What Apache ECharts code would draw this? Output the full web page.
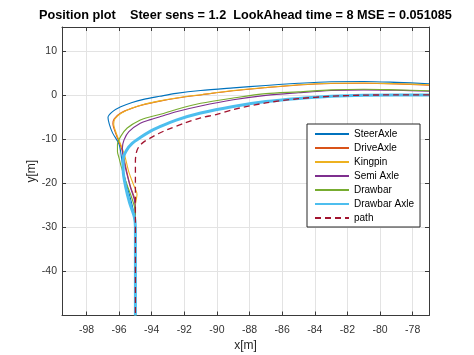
<!DOCTYPE html>
<html>
<head>
<meta charset="utf-8">
<script src="https://cdn.jsdelivr.net/npm/echarts@6/dist/echarts.min.js"></script>
<style>
html, body { margin: 0; padding: 0; background: #fff; }
#chart { width: 474px; height: 355px; }
</style>
</head>
<body>
<div id="chart"></div>
<script>
// ---- Data ----
const seriesNames = ['SteerAxle', 'DriveAxle', 'Kingpin', 'Semi Axle', 'Drawbar', 'Drawbar Axle', 'path'];

const steerAxle = [[-77, 2.55], [-79, 2.85], [-81, 3.05], [-83, 3.0], [-85, 2.65], [-87, 2.15], [-89, 1.6], [-91, 1.0], [-92.5, 0.35], [-93.5, -0.3], [-94.5, -1.0], [-95.2, -1.7], [-95.9, -2.7], [-96.4, -3.8], [-96.68, -5.1], [-96.6, -6.6], [-96.4, -8.6], [-96.0, -11.2], [-95.85, -14.3], [-95.7, -18], [-95.45, -21.5], [-95.2, -25], [-95.02, -28.5], [-95, -32], [-95, -50]];

const driveAxle = [[-77, 2.2], [-79, 2.5], [-81, 2.65], [-83, 2.6], [-85, 2.25], [-87, 1.65], [-89, 0.95], [-91, 0.0], [-92.5, -0.75], [-93.5, -1.4], [-94.5, -2.2], [-95.2, -3.0], [-95.9, -4.1], [-96.3, -5.4], [-96.38, -6.5], [-96.2, -8.8], [-95.9, -11.6], [-95.75, -13.5], [-95.55, -17], [-95.3, -20.8], [-95.05, -23.5], [-95, -26], [-95, -50]];

const kingpin = [[-77, 2.3], [-79, 2.55], [-81, 2.7], [-83, 2.65], [-85, 2.3], [-87, 1.7], [-89, 1.0], [-91, 0.05], [-92.5, -0.7], [-93.5, -1.35], [-94.5, -2.15], [-95.2, -2.95], [-95.85, -4.1], [-96.25, -5.4], [-96.33, -6.6], [-96.15, -8.9], [-95.85, -11.7], [-95.65, -13.8], [-95.4, -17.5], [-95.1, -20.5], [-94.9, -22.5], [-95, -25], [-95, -50]];

const semiAxle = [[-77, 0.85], [-79, 1.05], [-81, 1.15], [-83, 1.0], [-85, 0.5], [-87, -0.1], [-89, -1.1], [-91, -2.5], [-92.5, -3.8], [-93.46, -4.9], [-94.07, -5.6], [-94.7, -6.4], [-95.4, -8.3], [-95.7, -10.2], [-95.8, -12.1], [-95.75, -14], [-95.55, -17.5], [-95.3, -21], [-95.05, -24], [-95, -27], [-95, -50]];

const drawbar = [[-77, 0.95], [-79, 1.15], [-81, 1.3], [-83, 1.15], [-85, 0.7], [-87, 0.3], [-89, -0.7], [-91, -1.9], [-92.5, -3.3], [-93.46, -4.4], [-94.07, -4.95], [-94.7, -5.7], [-95.5, -7.5], [-95.9, -9.4], [-96.1, -11.3], [-96.1, -12.8], [-96.0, -14.3], [-95.85, -16.5], [-95.6, -19.5], [-95.3, -22.5], [-95.05, -25.5], [-95, -28], [-95, -50]];

const drawbarAxle = [[-77, 0.0], [-79, 0.0], [-81, -0.05], [-83, -0.3], [-85, -0.8], [-87, -1.5], [-89, -2.6], [-91, -4.1], [-92.5, -5.7], [-93.56, -7.3], [-94.07, -8.2], [-94.68, -9.6], [-95.2, -11.0], [-95.55, -12.6], [-95.75, -14.5], [-95.75, -17], [-95.6, -20.8], [-95.35, -24.5], [-95.07, -27.6], [-95, -30], [-95, -50]];

const pathRef = [[-77, 0.0], [-79, 0.0], [-81, -0.05], [-83, -0.3], [-85, -0.85], [-87, -1.8], [-89, -3.3], [-90, -4.4], [-91, -5.2], [-92, -6.4], [-93, -7.8], [-93.6, -8.8], [-94.1, -9.8], [-94.5, -10.7], [-94.8, -11.8], [-94.95, -13.2], [-95, -15], [-95, -50]];

const seriesData = [steerAxle, driveAxle, kingpin, semiAxle, drawbar, drawbarAxle, pathRef];
const seriesColors = ['#0072BD', '#D95319', '#EDB120', '#7E2F8E', '#77AC30', '#4DBEEE', '#A2142F'];

const titleText = 'Position plot    Steer sens = 1.2  LookAhead time = 8 MSE = 0.051085';
const xName = 'x[m]';
const yName = 'y[m]';
const xMin = -99.5, xMax = -77;
const yMin = -50, yMax = 15.4;

// ---- Chart ----
const chart = echarts.init(document.getElementById('chart'), null, { renderer: 'canvas' });
const FONT = 'Liberation Sans, Arial, Helvetica, sans-serif';
const AXIS_COLOR = '#3a3a3a';
const GRID_COLOR = '#e3e3e3';

const xCommon = {
  type: 'value', min: xMin, max: xMax, splitNumber: 11, minInterval: 2, maxInterval: 2
};
const yCommon = {
  type: 'value', min: yMin, max: yMax, interval: 10
};

const series = seriesNames.map((name, i) => {
  const s = {
    name: name,
    type: 'line',
    data: seriesData[i],
    showSymbol: false,
    symbol: 'none',
    smooth: 0.3,
    color: seriesColors[i],
    lineStyle: { color: seriesColors[i], width: 1.1 },
    z: 2 + i
  };
  if (name === 'Drawbar Axle') s.lineStyle.width = 3;
  if (name === 'path') { s.lineStyle.type = [6, 4]; s.lineStyle.width = 1.3; }
  return s;
});

chart.setOption({
  animation: false,
  backgroundColor: '#ffffff',
  textStyle: { fontFamily: FONT },
  title: {
    text: titleText,
    left: 39,
    top: 9,
    padding: 0,
    textStyle: { fontFamily: FONT, fontSize: 12.7, fontWeight: 'bold', color: '#000' }
  },
  grid: { left: 62, right: 45, top: 27, bottom: 39.5, containLabel: false, outerBoundsMode: 'none' },
  legend: {
    orient: 'vertical',
    left: 307,
    top: 124,
    padding: [4, 6, 3, 7],
    itemWidth: 34,
    itemHeight: 12,
    itemGap: 2,
    itemStyle: { opacity: 0 },
    textStyle: { fontFamily: FONT, fontSize: 10, color: '#000', lineHeight: 12 },
    backgroundColor: '#ffffff',
    borderColor: '#262626',
    borderWidth: 1,
    borderRadius: 0,
    data: seriesNames
  },
  xAxis: [
    Object.assign({}, xCommon, {
      position: 'bottom',
      name: xName,
      nameLocation: 'middle',
      nameGap: 24,
      nameMoveOverlap: false,
      nameTextStyle: { fontFamily: FONT, fontSize: 12, color: '#262626' },
      axisLine: { show: true, onZero: false, lineStyle: { color: AXIS_COLOR, width: 1 } },
      axisTick: { show: true, inside: true, length: 4, lineStyle: { color: AXIS_COLOR } },
      axisLabel: { show: true, margin: 9, fontSize: 10.5, color: '#333', fontFamily: FONT, showMinLabel: false, showMaxLabel: false },
      splitLine: { show: true, lineStyle: { color: GRID_COLOR, width: 1 } }
    }),
    Object.assign({}, xCommon, {
      position: 'top',
      axisLine: { show: true, onZero: false, lineStyle: { color: AXIS_COLOR, width: 1 } },
      axisTick: { show: true, inside: true, length: 4, lineStyle: { color: AXIS_COLOR } },
      axisLabel: { show: false },
      splitLine: { show: false }
    })
  ],
  yAxis: [
    Object.assign({}, yCommon, {
      position: 'left',
      name: yName,
      nameLocation: 'middle',
      nameGap: 24,
      nameMoveOverlap: false,
      nameRotate: 90,
      nameTextStyle: { fontFamily: FONT, fontSize: 12, color: '#262626' },
      axisLine: { show: true, onZero: false, lineStyle: { color: AXIS_COLOR, width: 1 } },
      axisTick: { show: true, inside: true, length: 4, lineStyle: { color: AXIS_COLOR } },
      axisLabel: { show: true, margin: 5, fontSize: 10.5, color: '#333', fontFamily: FONT, showMinLabel: false, showMaxLabel: false },
      splitLine: { show: true, lineStyle: { color: GRID_COLOR, width: 1 } }
    }),
    Object.assign({}, yCommon, {
      position: 'right',
      axisLine: { show: true, onZero: false, lineStyle: { color: AXIS_COLOR, width: 1 } },
      axisTick: { show: true, inside: true, length: 4, lineStyle: { color: AXIS_COLOR } },
      axisLabel: { show: false },
      splitLine: { show: false }
    })
  ],
  series: series
});
</script>
</body>
</html>
